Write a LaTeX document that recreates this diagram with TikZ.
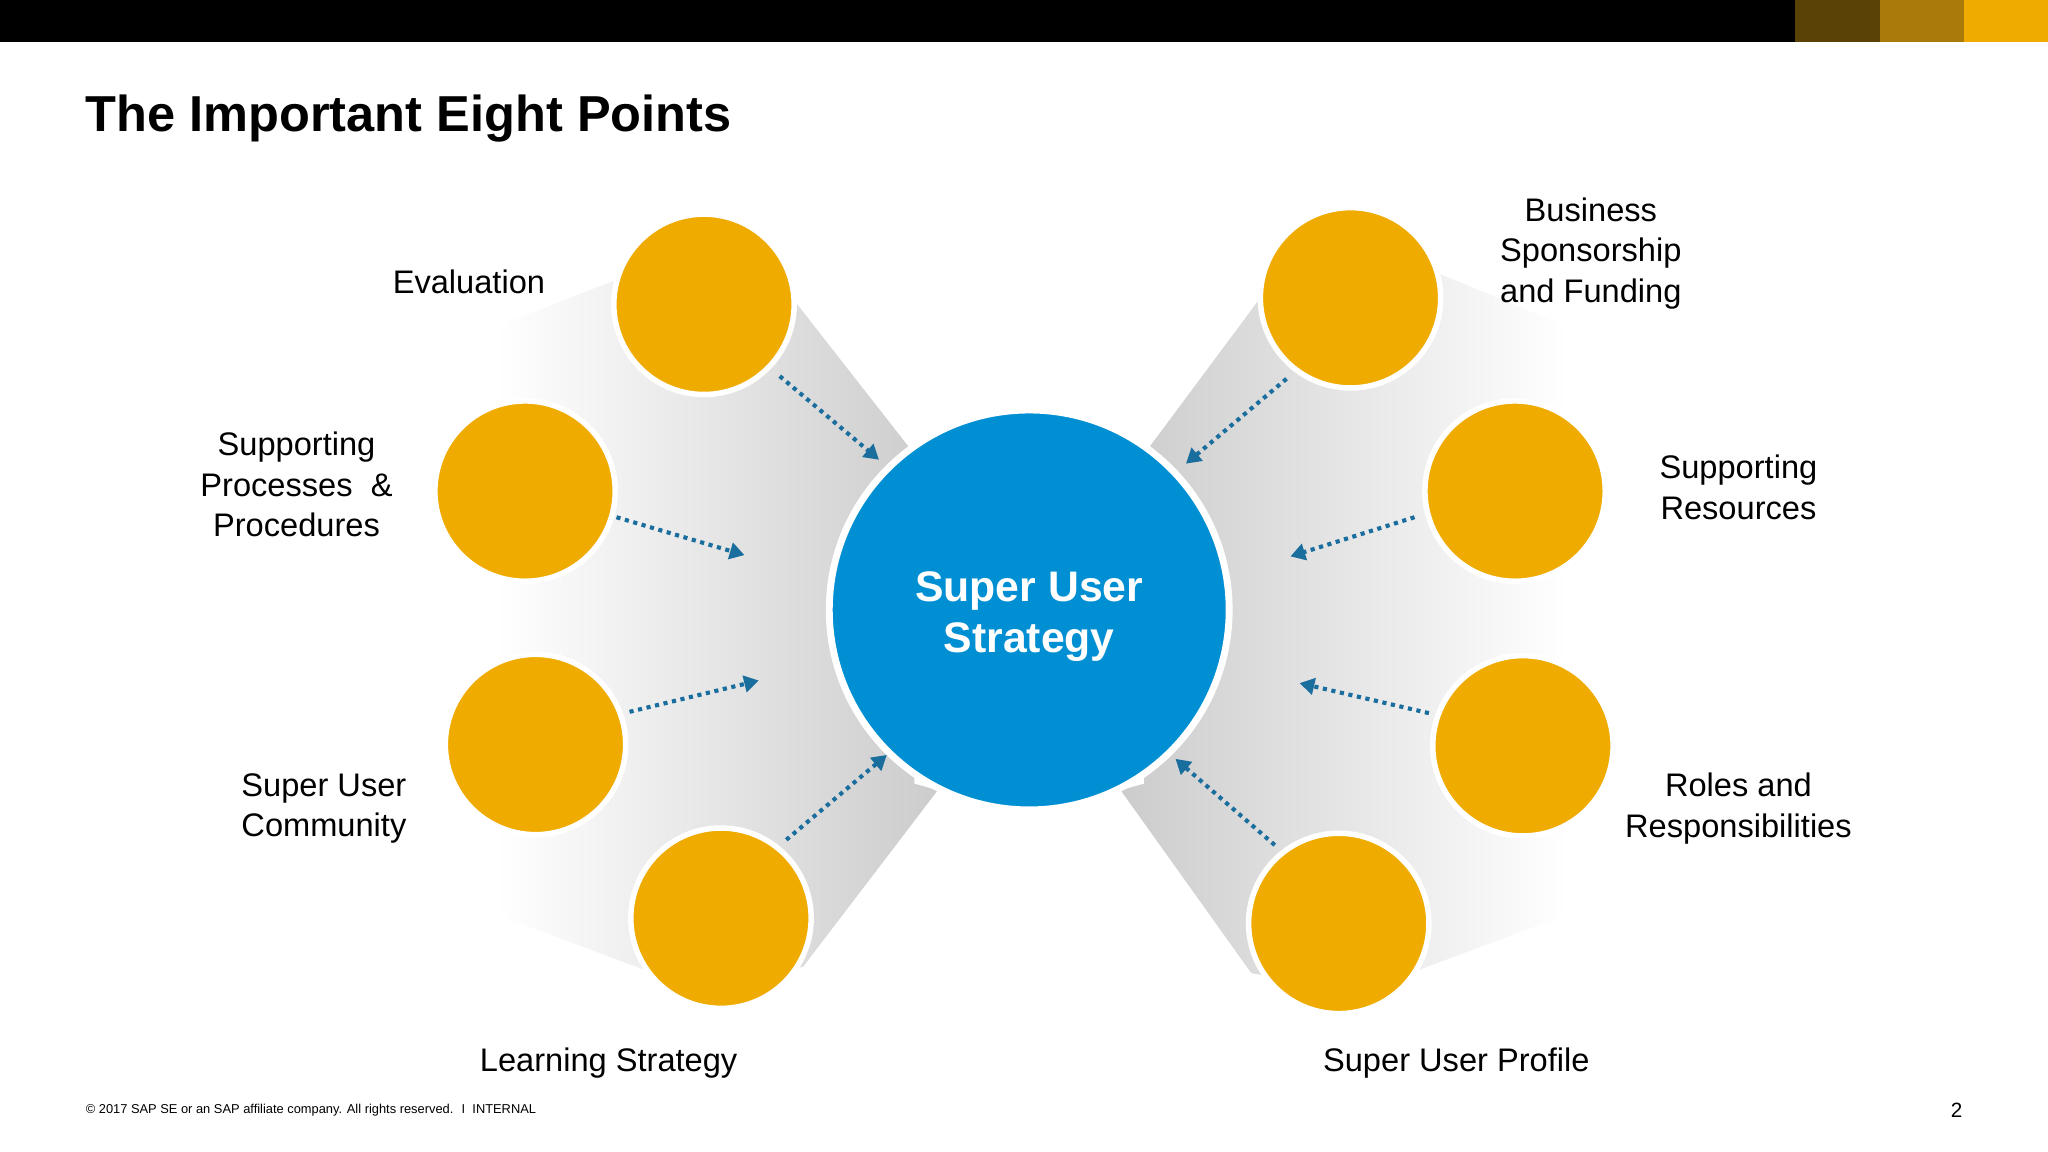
\documentclass[tikz,border=0pt]{standalone}
\usepackage{fontspec}
\setmainfont{Liberation Sans}
\usetikzlibrary{arrows.meta}
\definecolor{sapgold}{HTML}{F0AB00}
\definecolor{sapblue}{HTML}{008FD3}
\definecolor{arrblue}{HTML}{1A6E9E}
\definecolor{bar1}{HTML}{5A4106}
\definecolor{bar2}{HTML}{AA7A0B}
\tikzset{
 goldc/.style={circle,fill=sapgold,draw=white,line width=1.2pt,minimum size=1.38cm,inner sep=0},
 lbl/.style={align=center,font=\fontsize{7.1}{8.8}\selectfont,inner sep=0},
 darr/.style={arrblue,densely dotted,line width=0.9pt,-{Triangle[length=3.2pt,width=3.6pt]}},
}
\begin{document}
\begin{tikzpicture}[x=0.01cm,y=-0.01cm]
\useasboundingbox (0,0) rectangle (1568,882);
\fill[white] (0,0) rectangle (1568,882);
\fill[black] (0,0) rectangle (1374,32);
\fill[bar1] (1374,0) rectangle (1439,32);
\fill[bar2] (1439,0) rectangle (1504,32);
\fill[sapgold] (1504,0) rectangle (1568,32);
\node[anchor=west,font=\bfseries\fontsize{11}{13}\selectfont,inner sep=0] (title) at (65,91) {The Important Eight Points};
% fans
\shade[left color=white,right color=black!20] (380,250) -- (560,180) -- (608,230) -- (698,345) -- (700,600) -- (718,605) -- (615,740) -- (540,760) -- (380,700) -- cycle;
\shade[right color=white,left color=black!20] (1200,250) -- (1030,180) -- (965,228) -- (878,345) -- (876,600) -- (858,605) -- (958,745) -- (1040,760) -- (1200,700) -- cycle;
\node[circle,fill=sapblue,draw=white,line width=1.5pt,minimum size=3.06cm,inner sep=0] (c) at (788,467) {};
\node[text=white,align=center,font=\bfseries\fontsize{9.3}{11.2}\selectfont,inner sep=0] (ct) at (788,472) {Super User\\Strategy};
\node[goldc] (e) at (539,233) {};
\node[goldc] (b) at (1034,228) {};
\node[goldc] (sp) at (402,376) {};
\node[goldc] (sr) at (1160,376) {};
\node[goldc] (sc) at (410,570) {};
\node[goldc] (rr) at (1166,571) {};
\node[goldc] (ls) at (552,703) {};
\node[goldc] (pr) at (1025,707) {};
\node[lbl] (le) at (359,216) {Evaluation};
\node[lbl] (lb) at (1218,194) {Business\\Sponsorship\\and Funding};
\node[lbl] (lsp) at (227,371) {Supporting\\Processes \ \&\\Procedures};
\node[lbl] (lsr) at (1331,373) {Supporting\\Resources};
\node[lbl] (lsc) at (248,619) {Super User\\ Community};
\node[lbl] (lrr) at (1331,619) {Roles and\\Responsibilities};
\node[lbl] (lls) at (466,814) {Learning Strategy};
\node[lbl] (lpr) at (1115,814) {Super User Profile};
% arrows
\coordinate (a1) at (597,288); \coordinate (t1) at (673,352);
\coordinate (a2) at (472,396); \coordinate (t2) at (570,425);
\coordinate (a3) at (482,545); \coordinate (t3) at (581,521);
\coordinate (a4) at (602,643); \coordinate (t4) at (679,578);
\coordinate (a5) at (985,290); \coordinate (t5) at (908,355);
\coordinate (a6) at (1083,396); \coordinate (t6) at (988,426);
\coordinate (a7) at (1094,546); \coordinate (t7) at (995,523);
\coordinate (a8) at (976,647); \coordinate (t8) at (900,581);
\foreach \i in {1,...,8} {\draw[darr] (a\i) -- (t\i);}
\node[anchor=west,font=\fontsize{2.8}{4}\selectfont,inner sep=0] (foot) at (65,850) {© 2017 SAP SE or an SAP affiliate company. All rights reserved. \ I \ INTERNAL};
\node[font=\fontsize{4.5}{5}\selectfont,inner sep=0] (pg) at (1498,850) {2};
\end{tikzpicture}
\end{document}
